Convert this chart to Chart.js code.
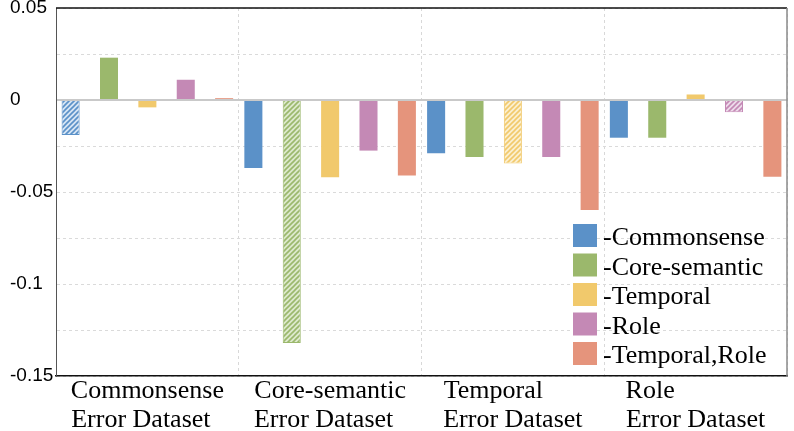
<!DOCTYPE html>
<html>
<head>
<meta charset="utf-8">
<script src="https://cdn.jsdelivr.net/npm/chart.js@4.4.2/dist/chart.umd.min.js"></script>
<style>
  html, body { margin: 0; padding: 0; background: #fff; }
  #wrap { width: 794px; height: 431px; position: relative; }
</style>
</head>
<body>
<div id="wrap"><canvas id="chart"></canvas></div>
<script>
// Ablation deltas per error dataset
const CATEGORIES = [
  ['Commonsense', 'Error Dataset'],
  ['Core-semantic', 'Error Dataset'],
  ['Temporal', 'Error Dataset'],
  ['Role', 'Error Dataset'],
];
const SERIES = ['-Commonsense', '-Core-semantic', '-Temporal', '-Role', '-Temporal,Role'];
const COMMONSENSE   = [-0.019, -0.037, -0.029, -0.0205];
const CORE_SEMANTIC = [0.023, -0.132, -0.031, -0.0205];
const TEMPORAL      = [-0.004, -0.042, -0.0345, 0.003];
const ROLE          = [0.011, -0.0275, -0.031, -0.0067];
const TEMPORAL_ROLE = [0.001, -0.041, -0.0598, -0.0417];
const Y_TICKS = [0.05, 0, -0.05, -0.1, -0.15];

const COLORS = ['#5b91c8', '#9bb86c', '#f1c96c', '#c489b5', '#e5947c'];
const TINTS  = ['#d6e5f4', '#dde9cc', '#fbefcf', '#eddaea', '#f7dcd3'];

const SERIF = '"Liberation Serif", "Times New Roman", serif';
const SANS = '"Liberation Sans", Arial, sans-serif';

// diagonal hatch used where the removed feature matches the dataset's own error type
function hatch(color, tint) {
  const c = document.createElement('canvas');
  c.width = 5; c.height = 5;
  const g = c.getContext('2d');
  g.fillStyle = tint;
  g.fillRect(0, 0, 5, 5);
  g.strokeStyle = color;
  g.lineWidth = 1.6;
  g.beginPath();
  g.moveTo(-1, 6); g.lineTo(6, -1);
  g.moveTo(-1, 1); g.lineTo(1, -1);
  g.moveTo(4, 6); g.lineTo(6, 4);
  g.stroke();
  return g.createPattern(c, 'repeat');
}

// pad lines with trailing spaces so a centred block reads left-aligned
const measurer = document.createElement('canvas').getContext('2d');
measurer.font = '26px ' + SERIF;
function leftAlign(lines) {
  const w = s => measurer.measureText(s).width;
  const max = Math.max(...lines.map(w));
  const sp = w(' ');
  return lines.map(l => {
    let s = l;
    while (w(s) + sp / 2 < max) s += ' ';
    return s;
  });
}

const values = [COMMONSENSE, CORE_SEMANTIC, TEMPORAL, ROLE, TEMPORAL_ROLE];
const datasets = SERIES.map((label, i) => {
  const pat = hatch(COLORS[i], TINTS[i]);
  return {
    label,
    data: values[i],
    backgroundColor: values[i].map((_, j) => (i === j ? pat : COLORS[i])),
    borderColor: COLORS[i],
    borderWidth: values[i].map((_, j) => (i === j ? 1 : 0)),
    categoryPercentage: 1.05,
    barPercentage: 0.47,
  };
});

const framePlugin = {
  id: 'frame',
  beforeDatasetsDraw(chart) {
    const { ctx, chartArea: a } = chart;
    ctx.save();
    ctx.lineWidth = 1.5;
    ctx.strokeStyle = '#111';
    ctx.beginPath();
    ctx.moveTo(a.left, a.top); ctx.lineTo(a.right, a.top);
    ctx.stroke();
    ctx.strokeStyle = '#8a8a8a';
    ctx.beginPath();
    ctx.moveTo(a.right, a.top); ctx.lineTo(a.right, a.bottom);
    ctx.stroke();
    ctx.restore();
  },
};

// legend sits inside the plot, bottom right
const insideLegend = {
  id: 'insideLegend',
  afterDatasetsDraw(chart) {
    const { ctx, chartArea: a } = chart;
    const x0 = a.right - 214, y0 = a.bottom - 152, pitch = 29.5;
    ctx.save();
    ctx.font = '26px ' + SERIF;
    ctx.fillStyle = '#000';
    ctx.textBaseline = 'alphabetic';
    chart.data.datasets.forEach((ds, i) => {
      const y = y0 + i * pitch;
      ctx.fillStyle = ds.borderColor;
      ctx.fillRect(x0, y, 24, 23);
      ctx.fillStyle = '#000';
      ctx.fillText(ds.label, x0 + 30, y + 21);
    });
    ctx.restore();
  },
};

Chart.defaults.font.family = SANS;
Chart.defaults.color = '#000';

new Chart(document.getElementById('chart'), {
  type: 'bar',
  data: { labels: CATEGORIES, datasets },
  plugins: [framePlugin, insideLegend],
  options: {
    responsive: true, maintainAspectRatio: false, animation: false,
    layout: { padding: { left: 10, top: 8, right: 7, bottom: 0 } },
    plugins: { legend: { display: false }, tooltip: { enabled: false } },
    scales: {
      x: {
        grid: { color: '#d8d8d8', drawTicks: false, offset: true },
        border: { color: '#111', width: 1.5, dash: [3, 3] },
        ticks: {
          font: { family: SERIF, size: 26, lineHeight: 1.1 },
          color: '#000', padding: 1, maxRotation: 0, autoSkip: false,
          callback: (v, i) => leftAlign(CATEGORIES[i]),
        },
        afterFit(s) { s.height = 55; },
      },
      y: {
        min: -0.15, max: 0.05,
        grid: {
          drawTicks: false,
          color: c => (c.tick && c.tick.value === 0 ? '#c9c9c9' : '#dadada'),
          lineWidth: c => (c.tick && c.tick.value === 0 ? 2 : 1),
        },
        border: {
          color: '#555', width: 1,
          dash: c => (c.tick && c.tick.value === 0 ? [] : [3, 3]),
        },
        ticks: {
          stepSize: 0.025, crossAlign: 'far', padding: 0,
          font: { family: SANS, size: 19, lineHeight: 0.8 }, color: '#000',
          callback: v => {
            const hit = Y_TICKS.find(t => Math.abs(t - v) < 1e-9);
            return hit === undefined ? '' : String(hit);
          },
        },
        afterFit(s) { s.width = 46; },
      },
    },
  },
});
</script>
</body>
</html>
